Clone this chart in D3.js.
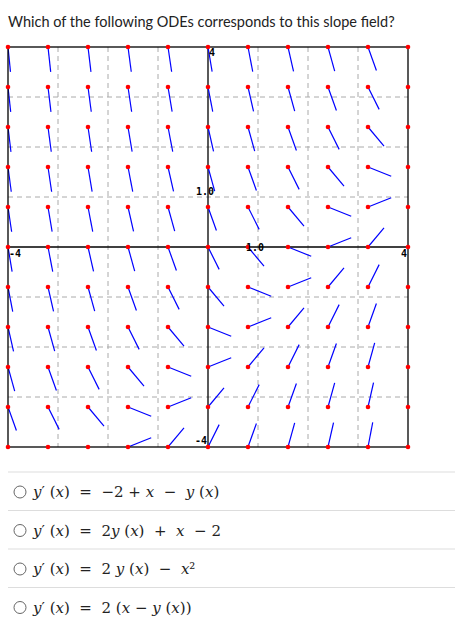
<!DOCTYPE html>
<html><head><meta charset="utf-8">
<script src="https://cdn.jsdelivr.net/npm/d3@7"></script>
<style>body{margin:0;background:#fff} .eq{white-space:pre}</style>
</head><body>
<svg width="455" height="633"></svg>
<script>
const xSamples=[-4,-3.2,-2.4,-1.6,-0.8,0,0.8,1.6,2.4,3.2,4];
const ySamples=[-4,-3.2,-2.4,-1.6,-0.8,0,0.8,1.6,2.4,3.2,4];
const gridTicks=[-3,-2,-1,1,2,3];
const slope=(x,y)=>-2+x-y;
const options=[
  [["y","i"],["′ (","n"],["x","i"],[")  =  −2 + ","n"],["x","i"],["  −  ","n"],["y","i"],[" (","n"],["x","i"],[")","n"]],
  [["y","i"],["′ (","n"],["x","i"],[")  =  2","n"],["y","i"],[" (","n"],["x","i"],[")  +  ","n"],["x","i"],["  − 2","n"]],
  [["y","i"],["′ (","n"],["x","i"],[")  =  2 ","n"],["y","i"],[" (","n"],["x","i"],[")  −  ","n"],["x","i"],["²","n"]],
  [["y","i"],["′ (","n"],["x","i"],[")  =  2 (","n"],["x","i"],[" − ","n"],["y","i"],[" (","n"],["x","i"],["))","n"]]
];
const svg=d3.select('svg');
svg.append('text').attr('x',8).attr('y',27).attr('font-family','Lato').attr('font-size',14.5).attr('fill','#222')
  .text('Which of the following ODEs corresponds to this slope field?');
const x=d3.scaleLinear().domain([-4,4]).range([8,408]);
const y=d3.scaleLinear().domain([-4,4]).range([447,47]);
svg.append('clipPath').attr('id','c').append('rect').attr('x',8).attr('y',47).attr('width',400).attr('height',400);
const g=svg.append('g');
g.selectAll('line.gx').data(gridTicks).enter().append('line')
  .attr('x1',d=>x(d)).attr('x2',d=>x(d)).attr('y1',y(4)).attr('y2',y(-4))
  .attr('stroke','#aaa').attr('stroke-dasharray','5,4');
g.selectAll('line.gy').data(gridTicks).enter().append('line')
  .attr('y1',d=>y(d)).attr('y2',d=>y(d)).attr('x1',x(-4)).attr('x2',x(4))
  .attr('stroke','#aaa').attr('stroke-dasharray','5,4');
g.append('line').attr('x1',x(0)).attr('x2',x(0)).attr('y1',y(4)).attr('y2',y(-4)).attr('stroke','#000').attr('stroke-width',1.3);
g.append('line').attr('y1',y(0)).attr('y2',y(0)).attr('x1',x(-4)).attr('x2',x(4)).attr('stroke','#000').attr('stroke-width',1.3);
const pts=[];
xSamples.forEach(a=>ySamples.forEach(b=>pts.push([a,b])));
const L=25;
g.append('g').attr('clip-path','url(#c)').selectAll('line').data(pts).enter().append('line')
  .attr('x1',d=>x(d[0])).attr('y1',d=>y(d[1]))
  .attr('x2',d=>{const f=slope(d[0],d[1]);return x(d[0])+L/Math.sqrt(1+f*f);})
  .attr('y2',d=>{const f=slope(d[0],d[1]);return y(d[1])-L*f/Math.sqrt(1+f*f);})
  .attr('stroke','#00f').attr('stroke-width',1.2);
g.append('rect').attr('x',x(-4)).attr('y',y(4)).attr('width',400).attr('height',400)
  .attr('fill','none').attr('stroke','#000').attr('stroke-width',1.3);
g.selectAll('circle').data(pts).enter().append('circle')
  .attr('cx',d=>x(d[0])).attr('cy',d=>y(d[1])).attr('r',2.3).attr('fill','red');
const labels=[[x(0)+1,y(4)+9,'4'],[x(0)-12,y(1)-2,'1.0'],[x(-4)+1,y(0)+10,'-4'],[x(4)-7,y(0)+10,'4'],[x(1)-12,y(0)+4,'1.0'],[x(0)-13,y(-4)-3,'-4']];
g.selectAll('text.l').data(labels).enter().append('text')
  .attr('x',d=>d[0]).attr('y',d=>d[1]).text(d=>d[2])
  .attr('font-family','DejaVu Sans Mono').attr('font-weight','bold').attr('font-size',10);
const top0=472,step=38.5;
options.forEach((parts,i)=>{
  const yy=top0+i*step;
  svg.append('line').attr('x1',8).attr('x2',455).attr('y1',yy).attr('y2',yy).attr('stroke','#ddd');
  svg.append('circle').attr('cx',20).attr('cy',yy+20).attr('r',6).attr('fill','none').attr('stroke','#666');
  const t=svg.append('text').attr('class','eq').attr('x',33).attr('y',yy+25)
    .attr('font-family','"DejaVu Serif", "Liberation Serif", serif').attr('font-size',15).attr('fill','#222');
  parts.forEach(p=>t.append('tspan').attr('font-style',p[1]=='i'?'italic':'normal').text(p[0]));
});
</script>
</body></html>
